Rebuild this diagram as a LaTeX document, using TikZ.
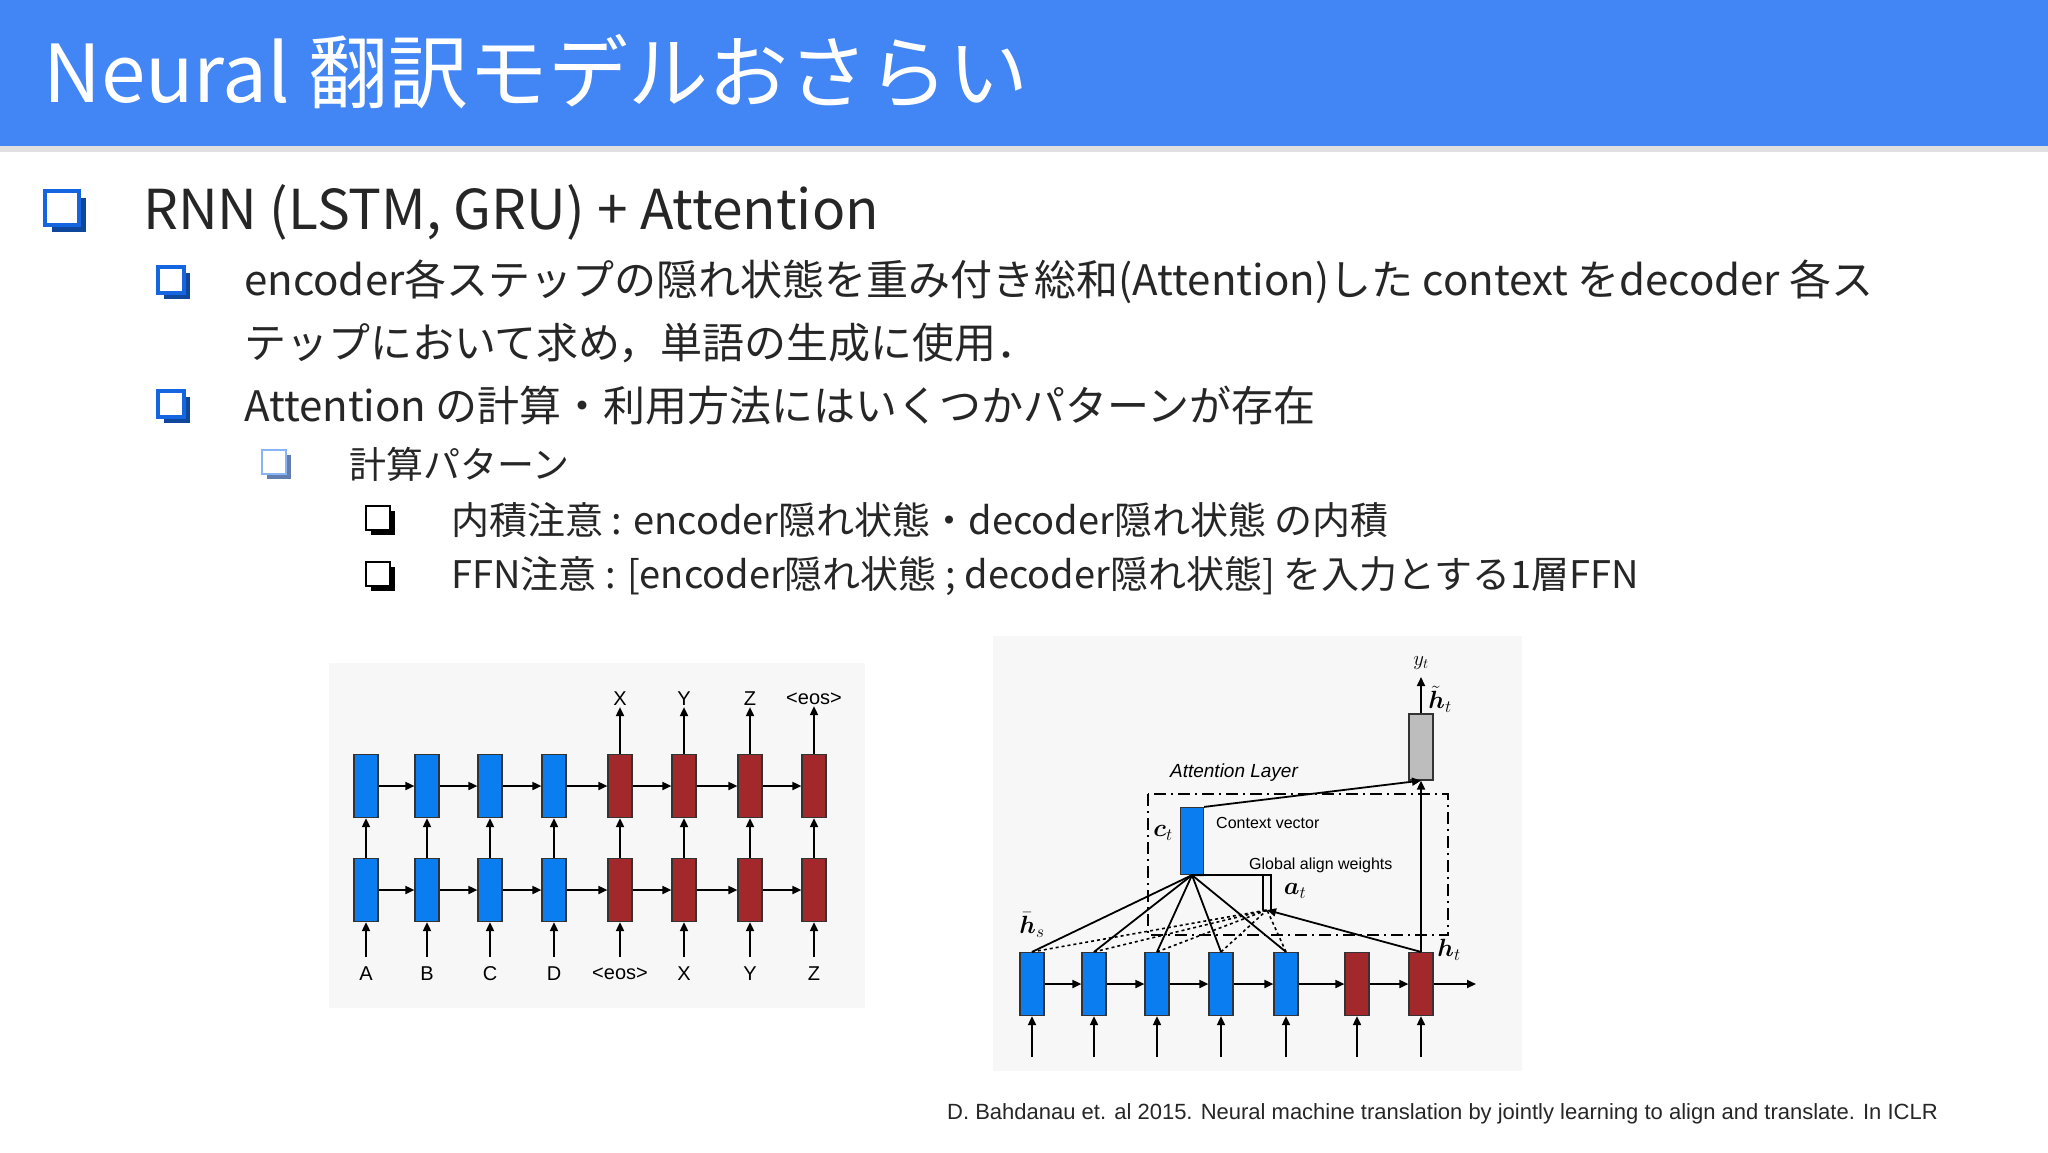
\documentclass[tikz,border=0pt]{standalone}
\usepackage{fontspec}
\usepackage{amsmath,bm}
\setmainfont{Noto Sans CJK JP}
\newfontfamily\diag{Liberation Sans}
\usetikzlibrary{arrows.meta}
\definecolor{hdr}{HTML}{4285F4}
\definecolor{cb}{HTML}{1565E0}
\definecolor{cbl}{HTML}{8AB4F8}
\definecolor{encb}{HTML}{0A7DF0}
\definecolor{decr}{HTML}{A3282B}
\definecolor{gbox}{HTML}{BDBDBD}
\definecolor{panel}{HTML}{F7F7F7}
\tikzset{
  cell/.style={draw=black!80,line width=1.2pt,minimum width=24pt,minimum height=63pt,inner sep=0pt},
  enc/.style={cell,fill=encb},
  dec/.style={cell,fill=decr},
  arr/.style={line width=1.8pt,-{Triangle[length=9pt,width=8pt]}},
  lbl/.style={font=\diag\fontsize{20}{22}\selectfont,inner sep=1pt},
  txt/.style={anchor=west,inner sep=0pt,text=black!85},
  mth/.style={inner sep=0pt,font=\fontsize{24}{26}\selectfont},
}
\newcommand{\chk}[4]{% x y size color
  \fill[#4!70!black] (#1+0.22*#3,#2-0.5*#3+0.22*#3) rectangle (#1+#3+0.22*#3,#2+0.5*#3+0.22*#3);
  \filldraw[fill=white,draw=#4,line width=0.12*#3] (#1,#2-0.5*#3) rectangle (#1+#3,#2+0.5*#3);}
\begin{document}
\begin{tikzpicture}[x=1pt,y=-1pt]
\useasboundingbox (0,0) rectangle (2048,1152);
\fill[white] (0,0) rectangle (2048,1152);
\fill[black!12] (0,146) rectangle (2048,152);
\fill[hdr] (0,0) rectangle (2048,146);
\node[anchor=west,inner sep=0pt,text=white,font=\fontsize{80}{86}\selectfont] (title) at (43,72) {Neural 翻訳モデルおさらい};
% bullets
\chk{45}{208}{34}{cb}
\node[txt,font=\fontsize{55}{60}\selectfont] (l1) at (143,212) {RNN (LSTM, GRU) + Attention};
\chk{158}{280}{26}{cb}
\node[txt,font=\fontsize{42}{48}\selectfont] (l2a) at (244,282) {encoder各ステップの隠れ状態を重み付き総和(Attention)した context をdecoder 各ス};
\node[txt,font=\fontsize{42}{48}\selectfont] (l2b) at (244,343) {テップにおいて求め，単語の生成に使用．};
\chk{158}{404}{26}{cb}
\node[txt,font=\fontsize{42}{48}\selectfont] (l2c) at (244,406) {Attention の計算・利用方法にはいくつかパターンが存在};
\chk{262}{462}{24}{cbl}
\node[txt,font=\fontsize{37}{42}\selectfont] (l3) at (349,464) {計算パターン};
\chk{366}{518}{24}{black}
\node[txt,font=\fontsize{38}{42}\selectfont] (l4a) at (451,520) {内積注意 : encoder隠れ状態・decoder隠れ状態 の内積};
\chk{366}{574}{24}{black}
\node[txt,font=\fontsize{38}{42}\selectfont] (l4b) at (451,576) {FFN注意 : [encoder隠れ状態 ; decoder隠れ状態] を入力とする1層FFN};
\node[anchor=east,inner sep=0pt,text=black!85,font=\diag\fontsize{22}{24}\selectfont] (cite) at (1938,1114) {D. Bahdanau et. al 2015. Neural machine translation by jointly learning to align and translate. In ICLR};
% ---------- left diagram
\fill[panel] (329,663) rectangle (865,1008);
\foreach \i/\x/\t/\inp in {1/366/enc/A,2/427/enc/B,3/490/enc/C,4/554/enc/D,5/620/dec/<eos>,6/684/dec/X,7/750/dec/Y,8/814/dec/Z}{
  \node[\t] (t\i) at (\x,786) {};
  \node[\t] (b\i) at (\x,890) {};
  \node[lbl] (in\i) at (\x,974) {\inp};
  \coordinate (s\i) at (\x,957);
  \draw[arr] (s\i) -- (b\i.south);
  \draw[arr] (b\i.north) -- (t\i.south);
}
\foreach \i/\o in {5/X,6/Y,7/Z,8/<eos>}{
  \node[lbl] (o\i) at (t\i|-0,699) {\o};
  \draw[arr] (t\i.north) -- (o\i.south);
}
\foreach \i [evaluate=\i as \j using int(\i+1)] in {1,...,7}{
  \draw[arr] (t\i.east) -- (t\j.west);
  \draw[arr] (b\i.east) -- (b\j.west);
}
% ---------- right diagram
\fill[panel] (993,636) rectangle (1522,1071);
\draw[line width=1.8pt,dash pattern=on 12pt off 5pt on 2pt off 5pt] (1148,794) rectangle (1448,935);
\foreach \i/\x/\t in {1/1032/enc,2/1094/enc,3/1157/enc,4/1221/enc,5/1286/enc,6/1357/dec,7/1421/dec}{
  \node[\t] (r\i) at (\x,984) {};
  \coordinate (ri\i) at (\x,1057);
  \draw[arr] (ri\i) -- (r\i.south);
}
\foreach \i [evaluate=\i as \j using int(\i+1)] in {1,...,6}{
  \draw[arr] (r\i.east) -- (r\j.west);
}
\coordinate (rend) at (1476,984);
\draw[arr] (r7.east) -- (rend);
\node[cell,fill=encb,minimum width=23pt,minimum height=67pt] (ct) at (1192,841) {};
\node[cell,fill=gbox,minimum width=24pt,minimum height=66pt] (gt) at (1421,747) {};
\coordinate (at) at (1267,910);
\coordinate (yt) at (1421,677);
\foreach \i in {1,...,5}{
  \draw[line width=1.8pt] (ct.south) -- (r\i.north);
  \draw[line width=1.6pt,dashed] (r\i.north) -- (at);
}
\draw[line width=1.8pt] (ct.south) -- (1271,875) -- (1271,910);
\draw[line width=1.8pt] (1263,875) -- (1263,910);
\draw[arr] (r7.north) -- (at);
\draw[arr] (r7.north) -- (gt.south);
\draw[arr] (ct.north east) -- (gt.south);
\draw[arr] (gt.north) -- (yt);
\node[mth,font=\fontsize{20}{22}\selectfont] (ylab) at (1421,663) {$y_t$};
\node[mth] (htl) at (1440,699) {$\tilde{\bm h}_t$};
\node[inner sep=0pt,font=\diag\itshape\fontsize{19}{22}\selectfont] (al) at (1234,773) {Attention Layer};
\node[anchor=west,inner sep=0pt,font=\diag\fontsize{16}{20}\selectfont] (cv) at (1216,823) {Context vector};
\node[anchor=west,inner sep=0pt,font=\diag\fontsize{16}{20}\selectfont] (gw) at (1249,865) {Global align weights};
\node[mth] (atl) at (1295,891) {$\bm a_t$};
\node[mth] (ctl) at (1163,833) {$\bm c_t$};
\node[mth] (hsl) at (1032,925) {$\bar{\bm h}_s$};
\node[mth] (htr) at (1449,950) {$\bm h_t$};
\end{tikzpicture}
\end{document}
